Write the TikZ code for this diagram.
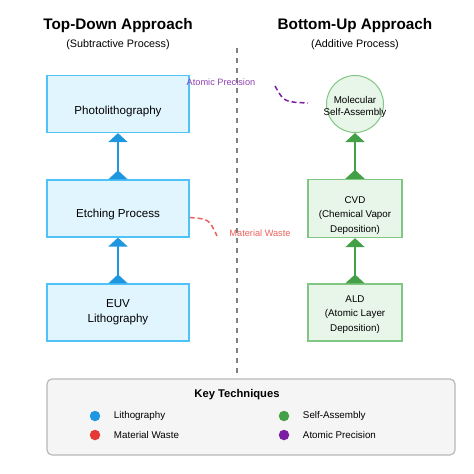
\documentclass[tikz,border=0pt]{standalone}
\usepackage{fontspec}
\setmainfont{Liberation Sans}
\usetikzlibrary{arrows.meta,calc,positioning}
\definecolor{litho}{HTML}{1E96E0}
\definecolor{lithofill}{HTML}{E1F5FE}
\definecolor{lithoedge}{HTML}{4FC3F7}
\definecolor{selfasm}{HTML}{43A047}
\definecolor{selfasmfill}{HTML}{E8F5E9}
\definecolor{selfasmedge}{HTML}{81C784}
\definecolor{waste}{HTML}{E53935}
\definecolor{atomic}{HTML}{7B1FA2}
\newcommand{\dropline}[1]{\rule{0pt}{#1}}
\tikzset{
	topbox/.style={draw=lithoedge, fill=lithofill, line width=1.2pt, minimum width=142pt, minimum height=57pt, align=center, font=\fontsize{11.6}{15}\selectfont},
	botbox/.style={draw=selfasmedge, fill=selfasmfill, line width=1.2pt, minimum width=94pt, minimum height=57pt, align=center, font=\fontsize{9.8}{14.2}\selectfont},
	heading/.style={font=\fontsize{15.3}{18}\selectfont\bfseries},
	subheading/.style={font=\fontsize{10.8}{13}\selectfont},
	keydot/.style={circle, inner sep=0pt, minimum size=10.5pt},
	keytext/.style={anchor=west, font=\fontsize{9.8}{12}\selectfont},
	tips/.style={{Triangle[reversed,width=19pt,length=9pt]}-{Triangle[width=19pt,length=9pt]}, line width=2pt}
}

\begin{document}
\begin{tikzpicture}[x=1pt, y=-1pt]
	\useasboundingbox (0,0) rectangle (474,474);
	
	% Place headings
	\node [heading] (tdtitle) at (118,26) {Top-Down Approach};
	\node [subheading] (tdsub) at (118,45) {(Subtractive Process)};
	\node [heading] (butitle) at (355,26) {Bottom-Up Approach};
	\node [subheading] (busub) at (355,45) {(Additive Process)};
	
	% Divider
	\coordinate (divtop) at (237,48);
	\coordinate (divbot) at (237,376);
	\draw [gray, line width=1.6pt, dash pattern=on 5pt off 5pt] (divtop) -- (divbot);
	
	% Place nodes
	\node [topbox] (photo) at (118,104) {\dropline{24pt}Photolithography};
	\node [topbox] (etching) at (118,208.5) {\dropline{20.5pt}Etching Process};
	\node [topbox] (euv) at (118,312.5) {EUV\\Lithography};
	\node [circle, draw=selfasmedge, fill=selfasmfill, line width=1pt, minimum size=57pt, inner sep=0pt,
		label={[align=center, yshift=-3pt, font=\fontsize{9.8}{12}\selectfont]center:Molecular\\Self-Assembly}] (molecular) at (355,104) {};
	\node [botbox] (cvd) at (355,208.5) {\dropline{21pt}CVD\\(Chemical Vapor\\Deposition)};
	\node [botbox] (ald) at (355,312.5) {\dropline{11pt}ALD\\(Atomic Layer\\Deposition)};
	
	% Draw edges
	\draw [tips, litho] (euv) -- (etching);
	\draw [tips, litho] (etching) -- (photo);
	\draw [tips, selfasm] (ald) -- (cvd);
	\draw [tips, selfasm] (cvd) -- (molecular);
	
	% Side notes
	\node [text=waste!80, font=\fontsize{9.2}{11}\selectfont] (wastelabel) at (260,233) {Material Waste};
	\coordinate (wasteend) at (217,236);
	\draw [waste!80, line width=1.5pt, dash pattern=on 5pt off 3pt] ($(etching.east)+(0,9)$) .. controls (209,219) .. (wasteend);
	\node [text=atomic!85, font=\fontsize{9.2}{11}\selectfont] (atomlabel) at (221,82) {Atomic Precision};
	\coordinate (atomstart) at (275,86);
	\coordinate (atomend) at (308,103);
	\draw [atomic, line width=1.5pt, dash pattern=on 5pt off 3pt] (atomstart) .. controls (284,102) .. (atomend);
	
	% Key
	\node [draw=gray!55, fill=gray!8, line width=1.2pt, rounded corners=5pt, minimum width=408pt, minimum height=76pt] (key) at (251,417) {};
	\node [font=\fontsize{11.2}{13}\selectfont\bfseries] (keytitle) at (237,395) {Key Techniques};
	\node [keydot, fill=litho] (dotlitho) at (95,416) {};
	\node [keytext, right=10pt of dotlitho] {Lithography};
	\node [keydot, fill=waste] (dotwaste) at (95,435) {};
	\node [keytext, right=10pt of dotwaste] {Material Waste};
	\node [keydot, fill=selfasm] (dotself) at (284,416) {};
	\node [keytext, right=10pt of dotself] {Self-Assembly};
	\node [keydot, fill=atomic] (dotatom) at (284,435) {};
	\node [keytext, right=10pt of dotatom] {Atomic Precision};
\end{tikzpicture}
\end{document}
